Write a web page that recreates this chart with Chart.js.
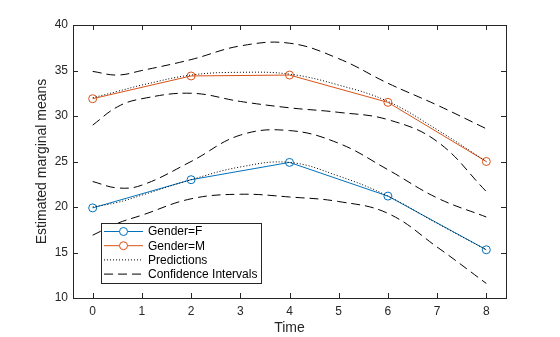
<!DOCTYPE html>
<html>
<head>
<meta charset="utf-8">
<script src="https://cdn.jsdelivr.net/npm/chart.js@4"></script>
<style>
  html, body { margin: 0; padding: 0; background: #fff; }
  #wrap { width: 560px; height: 337px; }
</style>
</head>
<body>
<div id="wrap"><canvas id="chart" width="560" height="337"></canvas></div>
<script>
// Observed estimated marginal means
const timePoints = [0, 2, 4, 6, 8];
const femaleMeans = [19.9, 23.0, 24.9, 21.2, 15.3];
const maleMeans = [31.9, 34.4, 34.5, 31.5, 25.0];

// Smooth prediction curves and confidence bounds
const curveTimes = [0, 0.5, 1, 2, 3, 4, 5, 6, 7, 8];
const femalePred = [20.0, 20.5, 21.3, 23.0, 24.4, 24.9, 23.4, 21.2, 18.2, 15.3];
const femaleUpper = [22.8, 22.1, 22.4, 25.0, 27.9, 28.4, 27.0, 24.1, 21.0, 18.9];
const femaleLower = [16.9, 18.2, 19.1, 20.9, 21.4, 21.1, 20.6, 19.3, 15.6, 11.6];
const malePred = [32.0, 32.7, 33.4, 34.5, 34.8, 34.6, 33.4, 31.6, 28.5, 25.0];
const maleUpper = [34.9, 34.5, 35.0, 36.2, 37.7, 38.0, 36.3, 33.6, 31.2, 28.6];
const maleLower = [29.0, 31.0, 31.9, 32.5, 31.6, 30.9, 30.4, 29.6, 27.2, 21.7];

const xTicks = [0, 1, 2, 3, 4, 5, 6, 7, 8];
const yTicks = [10, 15, 20, 25, 30, 35, 40];

const BLUE = '#0072BD';
const ORANGE = '#D95319';
const FONT = 'Liberation Sans, Arial, sans-serif';

function pts(xs, ys) {
    return xs.map((x, i) => ({ x: x, y: ys[i] }));
}

function curve(ys, dash) {
    return {
        data: pts(curveTimes, ys),
        borderColor: '#000',
        borderWidth: 1,
        borderDash: dash,
        pointRadius: 0,
        tension: 0.4,
        fill: false
    };
}

const dotted = [1, 2];
const dashed = [9, 5];

// MATLAB-style box with inward ticks and a hand drawn legend
const boxPlugin = {
    id: 'boxPlugin',
    afterDraw(chart) {
        const ctx = chart.ctx;
        const a = chart.chartArea;
        const xs = chart.scales.x, ys = chart.scales.y;
        ctx.save();
        ctx.strokeStyle = '#262626';
        ctx.lineWidth = 1;
        ctx.setLineDash([]);
        ctx.strokeRect(Math.round(a.left) + 0.5, Math.round(a.top) + 0.5,
            Math.round(a.right - a.left), Math.round(a.bottom - a.top));
        ctx.beginPath();
        xTicks.forEach(v => {
            const px = Math.round(xs.getPixelForValue(v)) + 0.5;
            ctx.moveTo(px, a.bottom); ctx.lineTo(px, a.bottom - 5);
            ctx.moveTo(px, a.top); ctx.lineTo(px, a.top + 5);
        });
        yTicks.forEach(v => {
            const py = Math.round(ys.getPixelForValue(v)) + 0.5;
            ctx.moveTo(a.left, py); ctx.lineTo(a.left + 5, py);
            ctx.moveTo(a.right, py); ctx.lineTo(a.right - 5, py);
        });
        ctx.stroke();

        // legend
        const lx = 101.5, ly = 223.5, lw = 160, lh = 60;
        ctx.fillStyle = '#fff';
        ctx.fillRect(lx, ly, lw, lh);
        ctx.strokeStyle = '#262626';
        ctx.strokeRect(lx, ly, lw, lh);
        const rows = [
            { label: 'Gender=F', color: BLUE, marker: true, dash: [] },
            { label: 'Gender=M', color: ORANGE, marker: true, dash: [] },
            { label: 'Predictions', color: '#000', marker: false, dash: dotted },
            { label: 'Confidence Intervals', color: '#000', marker: false, dash: dashed }
        ];
        ctx.font = '12px ' + FONT;
        ctx.textBaseline = 'middle';
        rows.forEach((r, i) => {
            const y = 231.5 + i * 14.2;
            ctx.strokeStyle = r.color;
            ctx.setLineDash(r.dash);
            ctx.beginPath();
            ctx.moveTo(104, y); ctx.lineTo(143, y);
            ctx.stroke();
            ctx.setLineDash([]);
            if (r.marker) {
                ctx.beginPath();
                ctx.arc(123.5, y, 4, 0, Math.PI * 2);
                ctx.fillStyle = '#fff';
                ctx.fill();
                ctx.stroke();
            }
            ctx.fillStyle = '#000';
            ctx.fillText(r.label, 148, y + 0.5);
        });
        ctx.restore();
    }
};

new Chart(document.getElementById('chart'), {
    type: 'line',
    data: {
        datasets: [
            curve(femaleUpper, dashed),
            curve(femaleLower, dashed),
            curve(maleUpper, dashed),
            curve(maleLower, dashed),
            curve(femalePred, dotted),
            curve(malePred, dotted),
            {
                label: 'Gender=F',
                data: pts(timePoints, femaleMeans),
                borderColor: BLUE,
                borderWidth: 1,
                pointRadius: 4,
                pointBorderColor: BLUE,
                pointBackgroundColor: 'rgba(0,0,0,0)',
                pointBorderWidth: 1,
                tension: 0
            },
            {
                label: 'Gender=M',
                data: pts(timePoints, maleMeans),
                borderColor: ORANGE,
                borderWidth: 1,
                pointRadius: 4,
                pointBorderColor: ORANGE,
                pointBackgroundColor: 'rgba(0,0,0,0)',
                pointBorderWidth: 1,
                tension: 0
            }
        ]
    },
    options: {
        responsive: false,
        animation: false,
        events: [],
        layout: { padding: { left: 34, top: 25, right: 54, bottom: 0 } },
        plugins: {
            legend: { display: false },
            tooltip: { enabled: false }
        },
        scales: {
            x: {
                type: 'linear',
                min: -0.4,
                max: 8.4,
                afterBuildTicks: s => { s.ticks = xTicks.map(v => ({ value: v })); },
                afterFit: s => { s.height = 39; },
                grid: { display: false, drawTicks: false },
                border: { display: false },
                ticks: { color: '#262626', font: { family: FONT, size: 12 }, padding: 6 },
                title: {
                    display: true, text: 'Time', color: '#262626',
                    font: { family: FONT, size: 14 }, padding: { top: 0, bottom: 0 }
                }
            },
            y: {
                min: 10,
                max: 40,
                afterBuildTicks: s => { s.ticks = yTicks.map(v => ({ value: v })); },
                afterFit: s => { s.width = 39; },
                grid: { display: false, drawTicks: false },
                border: { display: false },
                ticks: { color: '#262626', font: { family: FONT, size: 12 }, padding: 5 },
                title: {
                    display: true, text: 'Estimated marginal means', color: '#262626',
                    font: { family: FONT, size: 14 }, padding: { top: 0, bottom: 4 }
                }
            }
        }
    },
    plugins: [boxPlugin]
});
</script>
</body>
</html>
